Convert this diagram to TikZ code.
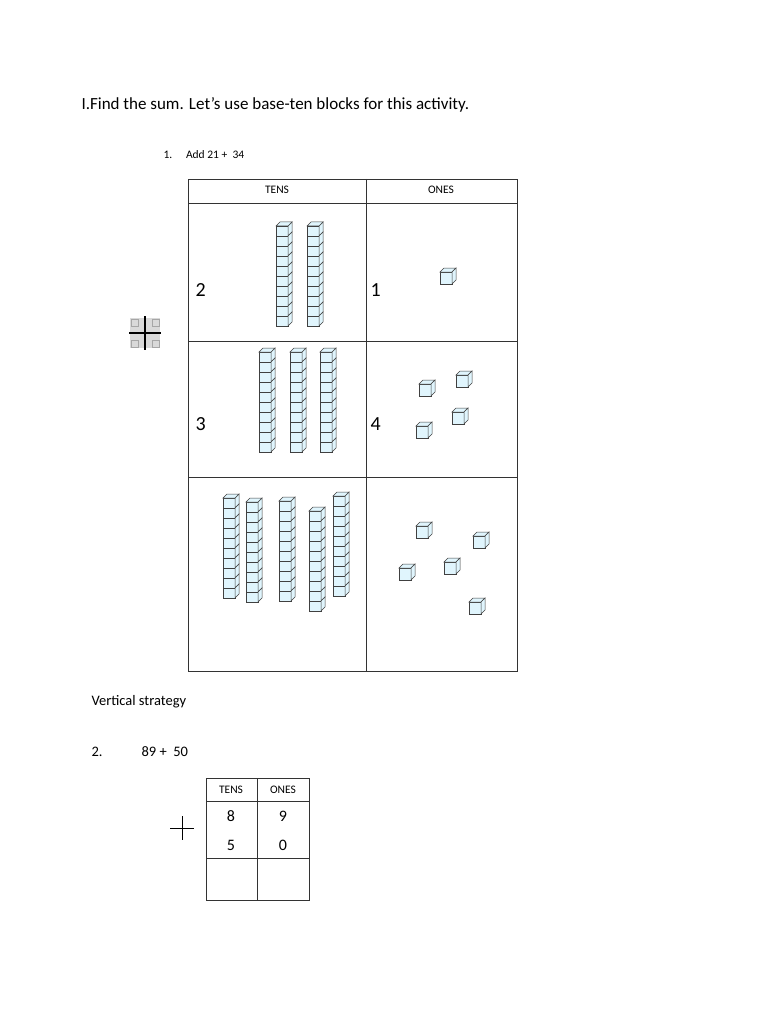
\documentclass[tikz,border=0pt]{standalone}
\usepackage{fontspec}
\setmainfont{Carlito}
\begin{document}
\begin{tikzpicture}[x=1pt,y=-1pt,
  blk/.style={fill=cyan!12,draw=black!75,line width=0.5pt},
  grid/.style={draw=black!80,line width=0.8pt},
  big/.style={font=\fontsize{20}{22}\selectfont,anchor=west},
  rod/.pic={
    \foreach \i in {0,...,9}{\path[blk] (0,{\i*10}) rectangle (12,{\i*10+10});
      \path[blk] (12,{\i*10}) -- (16,{\i*10-4}) -- (16,{\i*10+6}) -- (12,{\i*10+10}) -- cycle;}
    \path[blk] (0,0) -- (4,-4) -- (16,-4) -- (12,0) -- cycle;},
  cube/.pic={\path[blk] (0,0) rectangle (12,12);
    \path[blk] (0,0) -- (4,-4) -- (16,-4) -- (12,0) -- cycle;
    \path[blk] (12,0) -- (16,-4) -- (16,8) -- (12,12) -- cycle;}]
\useasboundingbox (0,0) rectangle (768,1024);
\node[anchor=west,font=\fontsize{17}{20}\selectfont] (title) at (78,105) {I.Find the sum. Let’s use base-ten blocks for this activity.};
\node[anchor=west,font=\fontsize{11.5}{13}\selectfont] (q1) at (160,155) {1.\hspace{1.2em}Add 21 +\ \ 34};
% table
\draw[grid] (188,179) rectangle (517,671);
\draw[grid] (366,179) -- (366,671);
\foreach \y in {203,341,477} \draw[grid] (188,\y) -- (517,\y);
\node[font=\fontsize{11.5}{13}\selectfont] (tens) at (277,190) {TENS};
\node[font=\fontsize{11.5}{13}\selectfont] (ones) at (441,190) {ONES};
\node[big] (n2) at (192,290) {2};
\node[big] (n1) at (367,290) {1};
\node[big] (n3) at (192,424) {3};
\node[big] (n4) at (367,424) {4};
% rods
\foreach \x/\y in {276/226,307/226, 259/352,290/352,320/352, 223/498,246/502,279/501,309/511,333/496}
  \pic at (\x,\y) {rod};
\foreach \x/\y in {440/272, 419/384,456/375,452/412,416/426, 416/526,473/536,399/568,444/562,469/602}
  \pic at (\x,\y) {cube};
% plus sign with grey pattern
\fill[black!15] (130,318) rectangle (160,348);
\foreach \a in {131,152} \foreach \b in {319,340} \draw[black!35,line width=0.4pt] (\a,\b) rectangle ++(7,7);
\draw[line width=2.2pt] (129,333) -- (161,333) (145,316) -- (145,350);
% vertical strategy
\node[anchor=west,font=\fontsize{14.5}{17}\selectfont] (vs) at (88,702) {Vertical strategy};
\node[anchor=west,font=\fontsize{14.5}{17}\selectfont] (q2) at (88,752) {2.};
\node[anchor=west,font=\fontsize{14.5}{17}\selectfont] (q2b) at (138,752) {89 +\ \ 50};
\draw[grid] (206,778) rectangle (309,900);
\draw[grid] (257,778) -- (257,900);
\foreach \y in {801,858} \draw[grid] (206,\y) -- (309,\y);
\node[font=\fontsize{11.5}{13}\selectfont] (t2) at (231,790) {TENS};
\node[font=\fontsize{11.5}{13}\selectfont] (o2) at (283,790) {ONES};
\foreach \x/\y/\t in {231/816/8,283/816/9,231/845/5,283/845/0}
  \node[font=\fontsize{16}{18}\selectfont] at (\x,\y) {\t};
\draw[line width=1pt] (170,828) -- (194,828) (182,816) -- (182,840);
\end{tikzpicture}
\end{document}
